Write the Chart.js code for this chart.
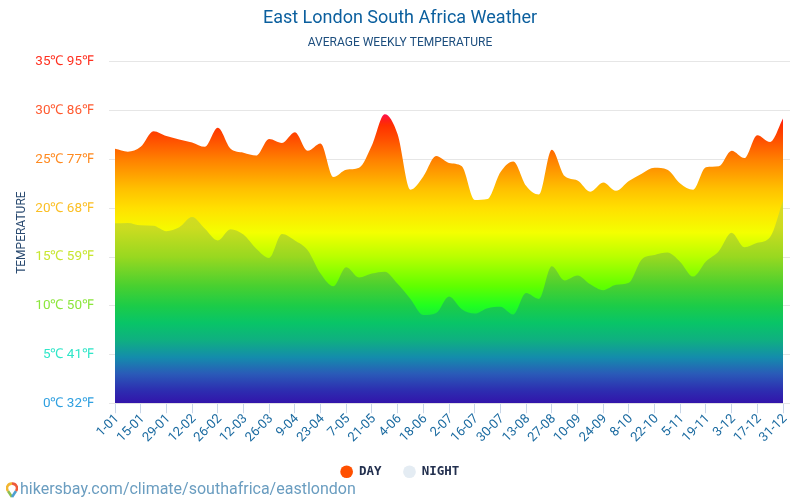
<!DOCTYPE html>
<html>
<head>
<meta charset="utf-8">
<title>East London South Africa Weather</title>
<script src="https://cdn.jsdelivr.net/npm/chart.js@4"></script>
<style>
  html, body { margin: 0; padding: 0; background: #fff; }
  #wrap { position: relative; width: 800px; height: 500px; overflow: hidden; }
  #footer { position: absolute; left: 20px; top: 479px; font: 16px Roboto, sans-serif; color: #6a9dc0; line-height: 20px; white-space: nowrap; }
  #pin { position: absolute; left: 6px; top: 482px; }
</style>
</head>
<body>
<div id="wrap">
  <canvas id="chart" width="800" height="500"></canvas>
  <svg id="pin" width="12" height="16" viewBox="0 0 12 16">
    <path d="M6 15 L2 9" stroke="#8fbf4f" stroke-width="2.6" fill="none"/>
    <path d="M6 15 L10 9" stroke="#4d9fd0" stroke-width="2.6" fill="none"/>
    <path d="M2 9 A4.6 4.6 0 0 1 6 1.6" stroke="#f2b632" stroke-width="2.6" fill="none"/>
    <path d="M6 1.6 A4.6 4.6 0 0 1 10 9" stroke="#ee5a3a" stroke-width="2.6" fill="none"/>
  </svg>
  <div id="footer">hikersbay.com/climate/southafrica/eastlondon</div>
</div>
<script>
const weeks = ["1-01","8-01","15-01","22-01","29-01","5-02","12-02","19-02","26-02","5-03","12-03","19-03","26-03",
  "2-04","9-04","16-04","23-04","30-04","7-05","14-05","21-05","28-05","4-06","11-06","18-06","25-06",
  "2-07","9-07","16-07","23-07","30-07","6-08","13-08","20-08","27-08","3-09","10-09","17-09","24-09",
  "1-10","8-10","15-10","22-10","29-10","5-11","12-11","19-11","26-11","3-12","10-12","17-12","24-12","31-12"];

const dayTemps = [26.1,25.8,26.3,27.9,27.4,27.05,26.75,26.3,28.25,26.1,25.7,25.4,27.1,
  26.7,27.8,25.9,26.65,23.2,23.95,24.15,26.45,29.65,27.6,21.9,23.25,25.35,
  24.65,24.3,20.85,20.95,23.7,24.8,22.3,21.4,26.0,23.3,22.85,21.7,22.65,
  21.8,22.8,23.55,24.15,23.95,22.55,21.9,24.2,24.3,25.9,25.15,27.5,26.8,29.2];

const nightTemps = [18.45,18.5,18.25,18.2,17.65,18.05,19.1,17.9,16.7,17.85,17.3,15.85,14.9,
  17.35,16.7,15.7,13.3,12.0,13.95,12.9,13.3,13.5,12.25,10.7,9.05,9.25,
  10.95,9.65,9.2,9.75,9.9,9.1,11.3,10.7,14.05,12.6,13.1,12.2,11.6,
  12.15,12.35,14.75,15.2,15.45,14.5,13.0,14.55,15.6,17.5,16.0,16.45,17.05,20.8];

const fahrenheit = { 0: 32, 5: 41, 10: 50, 15: 59, 20: 68, 25: 77, 30: 86, 35: 95 };
const tickColors = { 0: "#30a0e0", 5: "#30e6c8", 10: "#8ce63c", 15: "#c8e630", 20: "#fbbf24", 25: "#ff8a20", 30: "#ff5a30", 35: "#ff3020" };

// colour stops keyed by temperature, bottom to top
const dayStops = [[0,"#3214aa"],[1.3,"#2d2db0"],[3,"#2a5ab8"],[4.7,"#148cac"],[6.5,"#0fb080"],[8.2,"#10e050"],[10,"#20ff20"],[12,"#60ff00"],[15,"#b8ff00"],
  [17.5,"#f4ff00"],[20,"#ffe000"],[22,"#ffc000"],[25,"#ff8000"],[27,"#ff5000"],[28.5,"#ff3000"],[29,"#ff2018"],[29.6,"#ff1048"]];
const nightStops = [[0,"#3214aa"],[1.3,"#2d2db0"],[3,"#2a5ab8"],[4.7,"#148cac"],[6.5,"#0fb080"],[8.2,"#08c468"],[10,"#1ccc48"],[12,"#48d030"],[15,"#98d820"],
  [18,"#ccdc20"],[21,"#dcd828"]];

function gradient(context, stops) {
  const { chart } = context;
  if (!chart.chartArea) return "#ff5000";
  const y = chart.scales.y;
  const top = y.getPixelForValue(35), bottom = y.getPixelForValue(0);
  const g = chart.ctx.createLinearGradient(0, bottom, 0, top);
  stops.forEach(s => g.addColorStop(s[0] / 35, s[1]));
  g.addColorStop(1, stops[stops.length - 1][1]);
  return g;
}

const legendColors = ["#ff5000", "#e4ecf3"];

new Chart(document.getElementById("chart"), {
  type: "line",
  data: {
    labels: weeks,
    datasets: [
      { label: "DAY", data: dayTemps, order: 2, fill: "origin", borderWidth: 0, pointRadius: 0, cubicInterpolationMode: "monotone",
        backgroundColor: c => gradient(c, dayStops) },
      { label: "NIGHT", data: nightTemps, order: 1, fill: "origin", borderWidth: 0, pointRadius: 0, cubicInterpolationMode: "monotone",
        backgroundColor: c => gradient(c, nightStops) }
    ]
  },
  options: {
    responsive: false,
    devicePixelRatio: 1,
    animation: false,
    layout: { padding: { left: 10, right: 10, top: 0, bottom: 12 } },
    scales: {
      x: {
        grid: { drawOnChartArea: false, color: "#c8d6e8", tickLength: 10 },
        border: { display: false },
        ticks: { color: "#1a6aa0", font: { family: "Roboto", size: 13 }, minRotation: 45, maxRotation: 45, autoSkip: false, padding: -2, labelOffset: 2 },
        afterBuildTicks: s => { s.ticks = s.ticks.filter((t, i) => i % 2 === 0); }
      },
      y: {
        min: 0, max: 35,
        grid: { color: "#e6e6e6", tickLength: 6 },
        border: { display: false },
        title: { display: true, text: "TEMPERATURE", color: "#2a4a70", font: { family: "Roboto", size: 12 }, padding: { top: 5, bottom: 0 } },
        ticks: {
          stepSize: 5, padding: 15,
          font: { family: "Roboto", size: 13.5 },
          color: c => tickColors[c.tick.value],
          callback: v => v + "℃ " + fahrenheit[v] + "℉"
        },
        afterFit: s => { s.width = 105; }
      },
      y2: {
        position: "right", min: 0, max: 35,
        grid: { drawOnChartArea: false, color: "#e6e6e6", tickLength: 7 },
        border: { display: false },
        ticks: { display: false, stepSize: 5 }
      }
    },
    plugins: {
      title: { display: true, text: "East London South Africa Weather", color: "#0b5f9e", font: { family: "Roboto", size: 18, weight: "normal" }, padding: { top: 8, bottom: 3 } },
      subtitle: { display: true, text: "AVERAGE WEEKLY TEMPERATURE", color: "#1d4e7e", font: { family: "Roboto", size: 12, weight: "normal" }, padding: { top: 3, bottom: 12 } },
      tooltip: { enabled: false },
      legend: {
        position: "bottom",
        labels: {
          usePointStyle: true, pointStyle: "circle", boxHeight: 9, boxWidth: 12,
          color: "#23304f", font: { family: "DejaVu Sans Mono", size: 12.5, weight: "bold" },
          padding: 22,
          sort: (a, b) => a.datasetIndex - b.datasetIndex,
          generateLabels: chart => Chart.defaults.plugins.legend.labels.generateLabels(chart).map(item => {
            item.fillStyle = legendColors[item.datasetIndex];
            item.strokeStyle = legendColors[item.datasetIndex];
            item.lineWidth = 0;
            return item;
          })
        }
      }
    }
  }
});
</script>
</body>
</html>
